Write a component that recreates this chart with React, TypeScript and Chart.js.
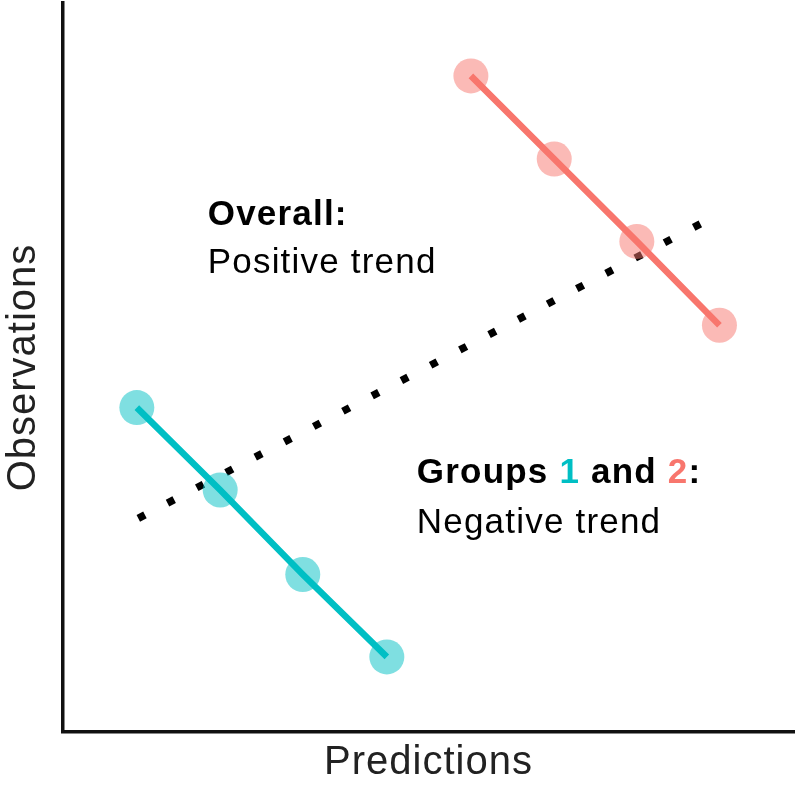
import React, { useEffect, useRef } from 'react';
import { Chart, registerables, ChartConfiguration, Plugin } from 'chart.js';

Chart.register(...registerables);

// values (both axes run 0..100, no tick labels)
const group1X: number[] = [10.1, 21.5, 32.8, 44.3];
const group1Y: number[] = [44.5, 33.2, 21.6, 10.3];
const group2X: number[] = [55.8, 67.2, 78.5, 89.8];
const group2Y: number[] = [90.0, 78.6, 67.3, 55.8];
const trendX: number[] = [10.3, 87.2];
const trendY: number[] = [29.3, 69.7];

const TEAL = '#00BFC4';
const SALMON = '#F8766D';
const FONT = '"Liberation Sans", Arial, Helvetica, sans-serif';

const toPoints = (xs: number[], ys: number[]) => xs.map((x, i) => ({ x, y: ys[i] }));

type Run = { text: string; color: string; bold: boolean };

// annotation text blocks, anchored in data units
const annotations: { x: number; y: number; runs: Run[] }[] = [
  { x: 19.8, y: 69.6, runs: [{ text: 'Overall:', color: '#000', bold: true }] },
  { x: 19.8, y: 63.0, runs: [{ text: 'Positive trend', color: '#000', bold: false }] },
  {
    x: 48.4,
    y: 34.2,
    runs: [
      { text: 'Groups ', color: '#000', bold: true },
      { text: '1', color: TEAL, bold: true },
      { text: ' and ', color: '#000', bold: true },
      { text: '2', color: SALMON, bold: true },
      { text: ':', color: '#000', bold: true },
    ],
  },
  { x: 48.4, y: 27.3, runs: [{ text: 'Negative trend', color: '#000', bold: false }] },
];

const textPlugin: Plugin<'scatter'> = {
  id: 'textNotes',
  beforeDraw(chart) {
    // slightly wider tracking for the axis titles
    (chart.ctx as any).letterSpacing = '1px';
  },
  afterDraw(chart) {
    const { ctx } = chart;
    const xs = chart.scales.x;
    const ys = chart.scales.y;
    ctx.save();
    (ctx as any).letterSpacing = '1.2px';
    ctx.textAlign = 'left';
    ctx.textBaseline = 'alphabetic';
    annotations.forEach((a) => {
      let px = xs.getPixelForValue(a.x);
      const py = ys.getPixelForValue(a.y);
      a.runs.forEach((r) => {
        ctx.font = `${r.bold ? 'bold ' : ''}35px ${FONT}`;
        ctx.fillStyle = r.color;
        ctx.fillText(r.text, px, py);
        px += ctx.measureText(r.text).width;
      });
    });
    ctx.restore();
    (ctx as any).letterSpacing = '0px';
  },
};

export default function App() {
  const chartRef = useRef<HTMLCanvasElement | null>(null);

  useEffect(() => {
    document.body.style.margin = '0';
    if (!chartRef.current) return;
    const ctx = chartRef.current.getContext('2d');
    if (!ctx) return;

    const config: ChartConfiguration<'scatter'> = {
      type: 'scatter',
      data: {
        datasets: [
          {
            label: 'Overall trend',
            data: toPoints(trendX, trendY),
            showLine: true,
            borderColor: '#000',
            borderWidth: 7.5,
            borderDash: [7.5, 25.5],
            borderCapStyle: 'butt',
            pointRadius: 0,
            order: 3,
          },
          {
            label: 'Group 1 points',
            data: toPoints(group1X, group1Y),
            backgroundColor: 'rgba(0, 191, 196, 0.5)',
            borderWidth: 0,
            pointRadius: 17.5,
            order: 2,
          },
          {
            label: 'Group 2 points',
            data: toPoints(group2X, group2Y),
            backgroundColor: 'rgba(248, 118, 109, 0.5)',
            borderWidth: 0,
            pointRadius: 17.5,
            order: 2,
          },
          {
            label: 'Group 1',
            data: toPoints(group1X, group1Y),
            showLine: true,
            borderColor: TEAL,
            borderWidth: 6.5,
            pointRadius: 0,
            order: 1,
          },
          {
            label: 'Group 2',
            data: toPoints(group2X, group2Y),
            showLine: true,
            borderColor: SALMON,
            borderWidth: 6.5,
            pointRadius: 0,
            order: 1,
          },
        ],
      },
      options: {
        animation: false,
        responsive: true,
        maintainAspectRatio: false,
        events: [],
        layout: { autoPadding: false, padding: { top: 3, right: 3, left: 0, bottom: 0 } },
        plugins: {
          legend: { display: false },
          tooltip: { enabled: false },
        },
        scales: {
          x: {
            type: 'linear',
            min: 0,
            max: 100,
            ticks: { display: false },
            grid: { display: true, drawTicks: false, drawOnChartArea: false, color: 'rgba(0,0,0,0)' },
            border: { display: true, color: '#111', width: 3.5 },
            title: {
              display: true,
              text: 'Predictions',
              color: '#222',
              font: { family: FONT, size: 40 },
              padding: { top: 7, bottom: 0 },
            },
          },
          y: {
            type: 'linear',
            min: 0,
            max: 100,
            ticks: { display: false },
            grid: { display: true, drawTicks: false, drawOnChartArea: false, color: 'rgba(0,0,0,0)' },
            border: { display: true, color: '#111', width: 3.5 },
            title: {
              display: true,
              text: 'Observations',
              color: '#222',
              font: { family: FONT, size: 40 },
              padding: { top: 0, bottom: 15 },
            },
          },
        },
      },
      plugins: [textPlugin],
    };

    const chartInstance = new Chart(ctx, config);
    return () => {
      chartInstance.destroy();
    };
  }, []);

  return (
    <div style={{ position: 'relative', width: '797px', height: '787px', background: '#fff' }}>
      <canvas ref={chartRef} />
    </div>
  );
}
